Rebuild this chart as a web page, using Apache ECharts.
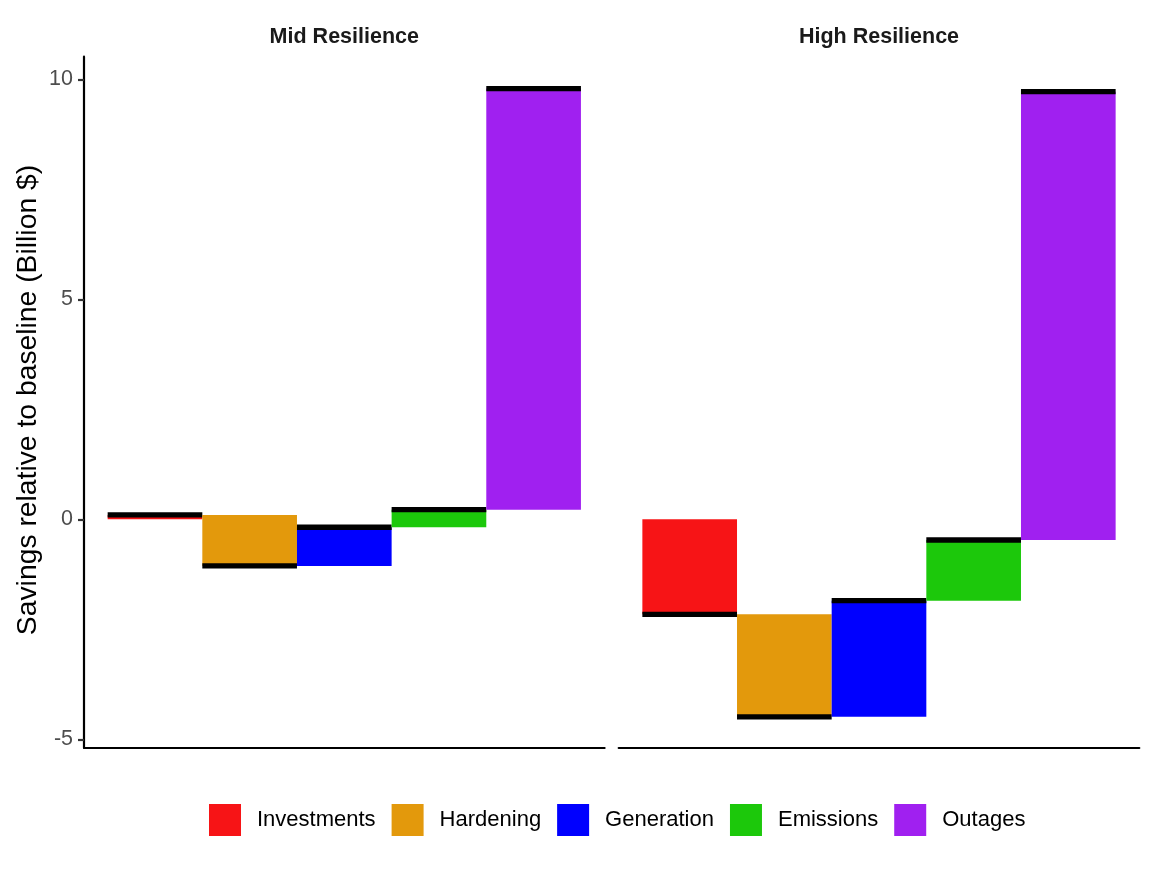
<!DOCTYPE html>
<html>
<head>
<meta charset="utf-8">
<script src="https://cdn.jsdelivr.net/npm/echarts@6/dist/echarts.min.js"></script>
<style>
  html, body { margin: 0; padding: 0; background: #fff; }
  #chart { width: 1155px; height: 870px; }
</style>
</head>
<body>
<div id="chart"></div>
<script>
// data
var categories = ['Investments', 'Hardening', 'Generation', 'Emissions', 'Outages'];
var panels = ['Mid Resilience', 'High Resilience'];
// cumulative savings at the end of each step (Billion $)
var midEnd = [0.10, -1.06, -0.18, 0.22, 9.79];
var highEnd = [-2.16, -4.49, -1.85, -0.47, 9.72];
var yTicks = [-5, 0, 5, 10];
var colors = ['#F71416', '#E3990C', '#0000FF', '#1CC80B', '#A020F0'];

var FONT = '"Liberation Sans", Arial, sans-serif';
var myChart = echarts.init(document.getElementById('chart'));

var panelEnds = [midEnd, highEnd];
var gridLeft = [84, 618.7];
var gridWidth = 520.6;

function renderStep(params, api) {
    var x0 = api.value(0), s = api.value(1), e = api.value(2);
    var tl = api.coord([x0, Math.max(s, e)]);
    var br = api.coord([x0 + 1, Math.min(s, e)]);
    var pe = api.coord([x0, e]);
    return {
        type: 'group',
        children: [
            {
                type: 'rect',
                shape: { x: tl[0], y: tl[1], width: br[0] - tl[0], height: br[1] - tl[1] },
                style: { fill: api.visual('color') }
            },
            {
                type: 'rect',
                shape: { x: tl[0], y: pe[1] - 2.65, width: br[0] - tl[0], height: 5.3 },
                style: { fill: '#000' }
            }
        ]
    };
}

var grids = [], xAxes = [], yAxes = [], series = [], graphics = [];
panels.forEach(function (title, p) {
    grids.push({ left: gridLeft[p], width: gridWidth, top: 56.7, height: 691.1 });
    xAxes.push({
        type: 'value', gridIndex: p, min: -0.25, max: 5.25,
        axisLine: { show: true, onZero: false, lineStyle: { color: '#000', width: 2.2 } },
        axisTick: { show: false }, axisLabel: { show: false }, splitLine: { show: false }
    });
    yAxes.push({
        type: 'value', gridIndex: p, min: -5.193, max: 10.514, show: p === 0,
        axisLine: { show: true, onZero: false, lineStyle: { color: '#000', width: 2.2 } },
        axisTick: { show: true, length: 6, customValues: yTicks, lineStyle: { color: '#333', width: 2.2 } },
        axisLabel: { show: true, customValues: yTicks, margin: 11, color: '#4D4D4D', fontSize: 21.5, fontFamily: FONT },
        splitLine: { show: false }
    });
    var ends = panelEnds[p];
    categories.forEach(function (name, i) {
        var start = i === 0 ? 0 : ends[i - 1];
        series.push({
            type: 'custom', name: name, xAxisIndex: p, yAxisIndex: p,
            itemStyle: { color: colors[i] },
            renderItem: renderStep,
            data: [[i, start, ends[i]]]
        });
    });
    graphics.push({
        type: 'text', x: gridLeft[p] + gridWidth / 2, y: 37,
        style: { text: title, font: 'bold 21.5px ' + FONT, fill: '#1A1A1A', textAlign: 'center', textVerticalAlign: 'middle' }
    });
});

graphics.push({
    type: 'text', x: 28, y: 400, rotation: Math.PI / 2,
    style: { text: 'Savings relative to baseline (Billion $)', font: '28.3px ' + FONT, fill: '#000', textAlign: 'center', textVerticalAlign: 'middle' }
});

option = {
    animation: false,
    grid: grids,
    xAxis: xAxes,
    yAxis: yAxes,
    legend: {
        data: categories,
        left: 209, top: 804, padding: 0,
        icon: 'rect', itemWidth: 32, itemHeight: 32, itemGap: 16,
        textStyle: { fontSize: 22, fontFamily: FONT, color: '#000', padding: [0, 0, 0, 11] },
        selectedMode: false
    },
    graphic: graphics,
    series: series
};

myChart.setOption(option);
</script>
</body>
</html>
